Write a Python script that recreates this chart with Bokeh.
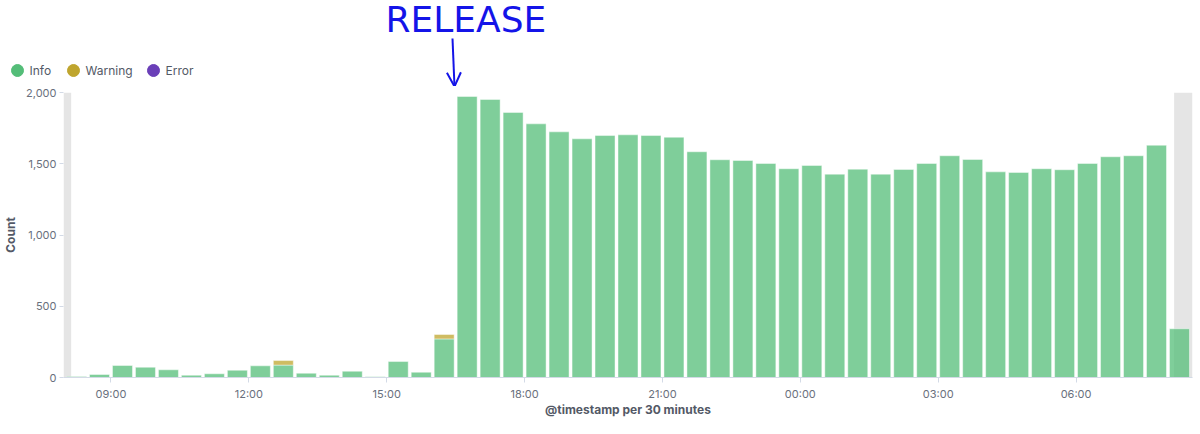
import datetime as dt
from bokeh.plotting import figure
from bokeh.layouts import column
from bokeh.models import (ColumnDataSource, FixedTicker, NumeralTickFormatter,
                          DatetimeTickFormatter, Range1d, Arrow, OpenHead, BoxAnnotation)
from bokeh.core.properties import value
from bokeh.embed import file_html
from bokeh.resources import INLINE

# ---------------- data ----------------
start = dt.datetime(2020, 1, 1, 8, 0)
slot_minutes = 30
info = [7, 21, 84, 72, 54, 16, 26, 51, 82, 87, 30, 16, 44, 5, 112, 37, 271,
        1972, 1951, 1860, 1780, 1724, 1675, 1698, 1703, 1698, 1686, 1584, 1528, 1523, 1502, 1465,
        1488, 1427, 1462, 1427, 1460, 1502, 1556, 1530, 1443, 1439, 1465, 1458, 1502, 1549, 1556,
        1630, 342]
warning = [0] * len(info)
warning[9] = 32
warning[16] = 31
error = [0] * len(info)
series_names = ["Info", "Warning", "Error"]
series_colors = ["#54bd78", "#bfa52e", "#6a3fb8"]
y_ticks = [0, 500, 1000, 1500, 2000]
x_tick_times = [dt.datetime(2020, 1, 1, 9), dt.datetime(2020, 1, 1, 12), dt.datetime(2020, 1, 1, 15),
                dt.datetime(2020, 1, 1, 18), dt.datetime(2020, 1, 1, 21), dt.datetime(2020, 1, 2, 0),
                dt.datetime(2020, 1, 2, 3), dt.datetime(2020, 1, 2, 6)]
query_start = dt.datetime(2020, 1, 1, 8, 8)
query_end = dt.datetime(2020, 1, 2, 8, 8)
annotation_text = "RELEASE"

EPOCH = dt.datetime(1970, 1, 1)
def ms(t):
    return (t - EPOCH).total_seconds() * 1000.0

slot_ms = slot_minutes * 60 * 1000
centers = [ms(start) + slot_ms * (i + 0.5) for i in range(len(info))]

src_info = ColumnDataSource(dict(x=centers, top=info, bottom=[0] * len(info)))
w_idx = [i for i, v in enumerate(warning) if v > 0]
src_warn = ColumnDataSource(dict(x=[centers[i] for i in w_idx],
                                 bottom=[info[i] for i in w_idx],
                                 top=[info[i] + warning[i] for i in w_idx]))

FONT = "Inter"
W = 1194
HEADER_H = 86

# ---------------- header: legend + release note ----------------
h = figure(width=W, height=HEADER_H, x_range=Range1d(0, W), y_range=Range1d(HEADER_H, 0),
           x_axis_location=None, y_axis_location=None, output_backend="svg",
           toolbar_location=None, min_border=0)
h.outline_line_color = None
h.grid.visible = False
legend_dot_x = [17, 73, 153]
legend_y = 70
h.scatter(x=legend_dot_x, y=[legend_y] * 3, size=12, marker="circle",
          fill_color=series_colors, line_color=series_colors)
h.text(x=[x + 12 for x in legend_dot_x], y=[legend_y] * 3, text=series_names,
       text_font=value(FONT), text_font_size="12px", text_color="#535966",
       text_baseline="middle", text_align="left")
h.text(x=[385], y=[19], text=[annotation_text], text_font=value("DejaVu Sans"),
       text_font_size="36px", text_color="#1414e8", text_baseline="middle", text_align="left")
h.add_layout(Arrow(x_start=452, y_start=38, x_end=454, y_end=86,
                   line_color="#1414e8", line_width=2,
                   end=OpenHead(size=14, line_color="#1414e8", line_width=2)))

# ---------------- main chart ----------------
p = figure(width=W, height=338, x_axis_type="datetime",
           x_range=Range1d(ms(dt.datetime(2020, 1, 1, 7, 58)), ms(dt.datetime(2020, 1, 2, 8, 32))),
           y_range=Range1d(0, 2000),
           output_backend="svg", toolbar_location=None,
           min_border_left=54, min_border_right=2, min_border_top=6, min_border_bottom=47)
p.outline_line_color = None
p.grid.visible = False

for fig in (h, p):
    if "frame_align" in fig.properties():
        fig.frame_align = False

p.add_layout(BoxAnnotation(right=ms(query_start), fill_color="#e5e5e5",
                           fill_alpha=1, line_color=None, level="underlay"))
p.add_layout(BoxAnnotation(left=ms(query_end), fill_color="#e5e5e5",
                           fill_alpha=1, line_color=None, level="underlay"))

bw = slot_ms * 0.87
p.vbar(x="x", top="top", bottom="bottom", width=bw, source=src_info,
       fill_color=series_colors[0], fill_alpha=0.75, line_color="white", line_alpha=0.45, line_width=1)
p.vbar(x="x", top="top", bottom="bottom", width=bw, source=src_warn,
       fill_color=series_colors[1], fill_alpha=0.75, line_color="white", line_alpha=0.45, line_width=1)

p.yaxis.ticker = FixedTicker(ticks=y_ticks)
p.yaxis.formatter = NumeralTickFormatter(format="0,0")
p.yaxis.axis_line_color = None
p.yaxis.major_tick_line_color = "#d3dae6"
p.yaxis.major_tick_out = 4
p.yaxis.major_tick_in = 0
p.yaxis.minor_tick_line_color = None
p.yaxis.major_label_standoff = 3
p.yaxis.axis_label = "Count"
p.yaxis.axis_label_standoff = 5

p.xaxis.ticker = FixedTicker(ticks=[ms(t) for t in x_tick_times])
p.xaxis.formatter = DatetimeTickFormatter(hours="%H:%M", days="%H:%M", hourmin="%H:%M")
p.xaxis.axis_line_color = "#d3dae6"
p.xaxis.major_tick_line_color = "#d3dae6"
p.xaxis.major_tick_out = 5
p.xaxis.major_tick_in = 0
p.xaxis.minor_tick_line_color = None
p.xaxis.major_label_standoff = 4
p.xaxis.axis_label = "@timestamp per 30 minutes"
p.xaxis.axis_label_standoff = -2

for ax in (p.xaxis, p.yaxis):
    ax.major_label_text_font = FONT
    ax.major_label_text_font_size = "11px"
    ax.major_label_text_color = "#69707d"
    ax.axis_label_text_font = FONT
    ax.axis_label_text_font_size = "12px"
    ax.axis_label_text_font_style = "bold"
    ax.axis_label_text_color = "#535966"

layout = column(h, p, spacing=0)
open("out.html", "w").write(file_html(layout, INLINE))
